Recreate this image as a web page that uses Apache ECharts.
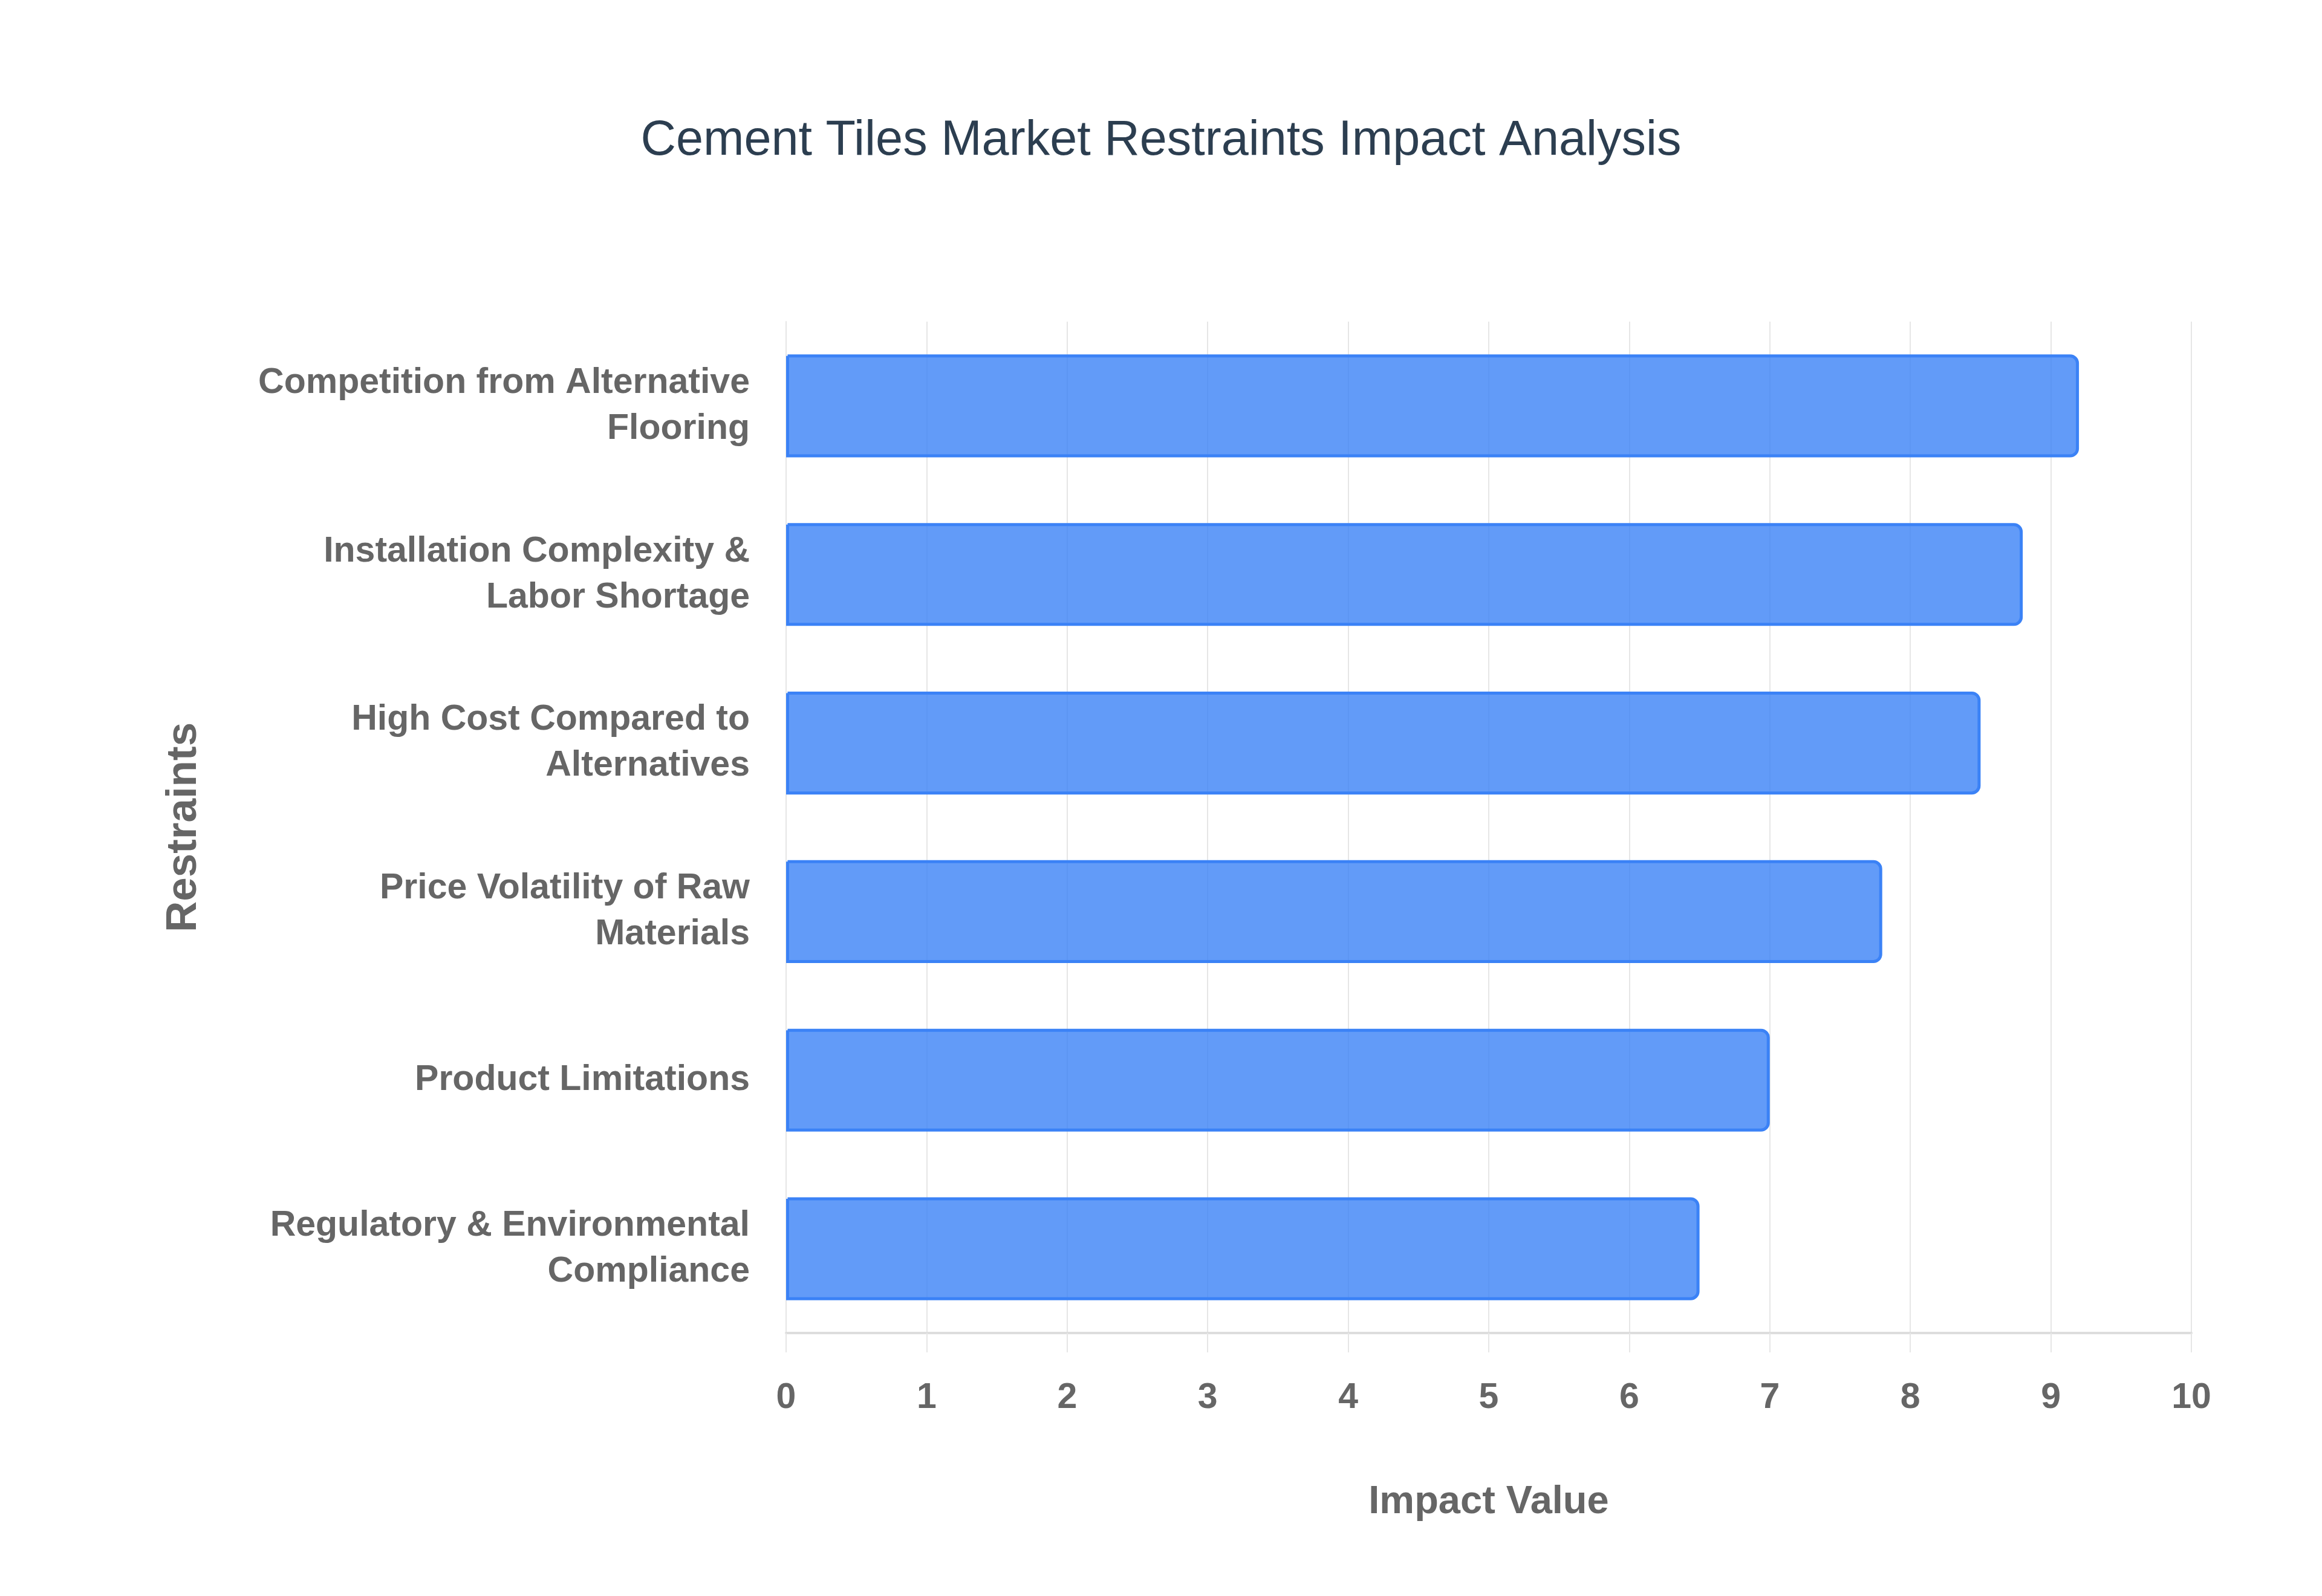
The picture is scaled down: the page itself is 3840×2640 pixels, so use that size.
<!DOCTYPE html>
<html>
<head>
<meta charset="utf-8">
<script src="https://cdn.jsdelivr.net/npm/echarts@6/dist/echarts.min.js"></script>
<style>
html,body{margin:0;padding:0;background:#fff;}
#chart{width:3840px;height:2640px;}
</style>
</head>
<body>
<div id="chart"></div>
<script>
var titleText = 'Cement Tiles Market Restraints Impact Analysis';
var categories = [
  'Competition from Alternative\nFlooring',
  'Installation Complexity &\nLabor Shortage',
  'High Cost Compared to\nAlternatives',
  'Price Volatility of Raw\nMaterials',
  'Product Limitations',
  'Regulatory & Environmental\nCompliance'
];
var impactValues = [9.2, 8.8, 8.5, 7.8, 7.0, 6.5];
var xAxisName = 'Impact Value';
var yAxisName = 'Restraints';

var FONT = '"Liberation Sans", Arial, Helvetica, sans-serif';
var chart = echarts.init(document.getElementById('chart'));
chart.setOption({
  backgroundColor: '#ffffff',
  animation: false,
  title: {
    text: titleText,
    left: 'center',
    top: 188,
    textStyle: { fontFamily: FONT, fontSize: 81, fontWeight: 'normal', color: '#2c3e50' }
  },
  grid: { left: 1300, right: 216, top: 532, bottom: 435, containLabel: false },
  xAxis: {
    type: 'value',
    min: 0, max: 10, interval: 1,
    name: xAxisName,
    nameLocation: 'middle',
    nameGap: 248,
    nameTextStyle: { fontFamily: FONT, fontSize: 65, fontWeight: 'bold', color: '#666666' },
    axisLine: { show: true, lineStyle: { color: '#dddddd', width: 4 } },
    axisTick: { show: true, length: 32, lineStyle: { color: '#e6e6e6', width: 2 } },
    splitLine: { show: true, lineStyle: { color: '#e6e6e6', width: 2 } },
    axisLabel: { margin: 78, fontFamily: FONT, fontSize: 59, fontWeight: 'bold', color: '#666666' }
  },
  yAxis: {
    type: 'category',
    inverse: true,
    data: categories,
    name: yAxisName,
    nameLocation: 'middle',
    nameGap: 960,
    nameRotate: 90,
    nameTextStyle: { fontFamily: FONT, fontSize: 71, fontWeight: 'bold', color: '#666666' },
    axisLine: { show: true, lineStyle: { color: '#e6e6e6', width: 2 } },
    axisTick: { show: false },
    splitLine: { show: false },
    axisLabel: { margin: 60, fontFamily: FONT, fontSize: 59, fontWeight: 'bold', color: '#666666', lineHeight: 76, align: 'right' }
  },
  series: [{
    type: 'bar',
    data: impactValues,
    barCategoryGap: '39%',
    itemStyle: {
      color: 'rgba(59,130,246,0.8)',
      borderColor: '#3b82f6',
      borderWidth: 5,
      borderRadius: [0, 12, 12, 0]
    }
  }]
});
</script>
</body>
</html>
